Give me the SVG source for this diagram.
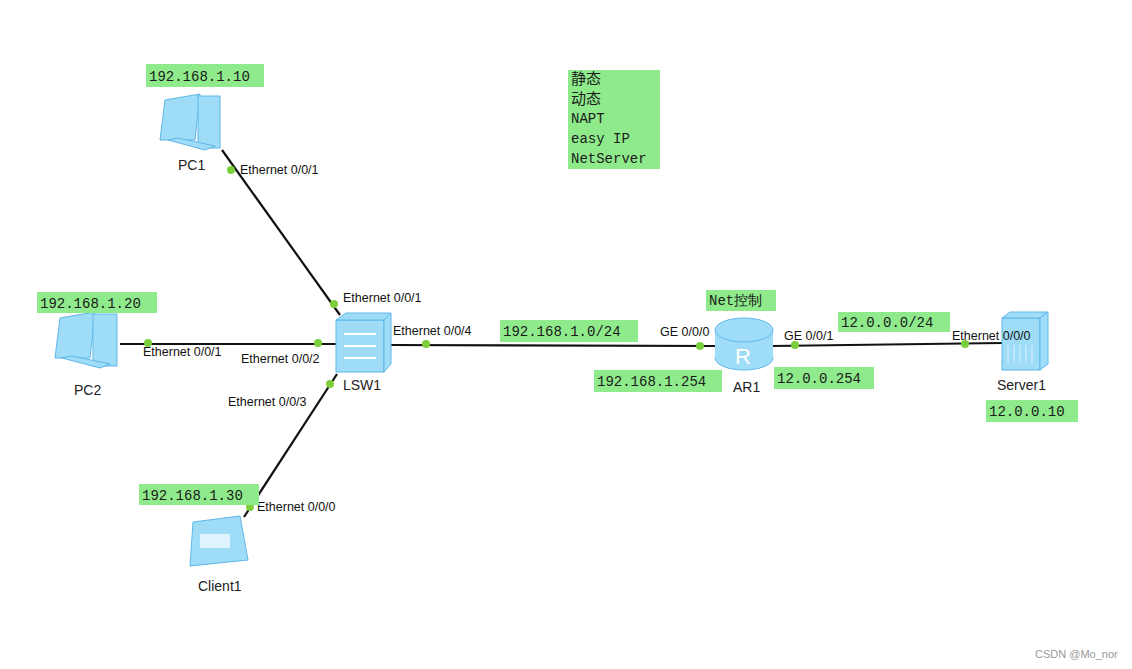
<svg xmlns="http://www.w3.org/2000/svg" width="1132" height="669" viewBox="0 0 1132 669">
<style>
.g{fill:#8fea8c}
.m{font-family:"Liberation Mono","DejaVu Sans Mono",monospace;font-size:14px;fill:#1a1a1a}
.p{font-family:"Liberation Sans",Arial,sans-serif;font-size:12.5px;fill:#111}
.n{font-family:"Liberation Sans",Arial,sans-serif;font-size:14px;fill:#222}
.l{stroke:#111;stroke-width:2.2;fill:none}
.d{fill:#7ccf3c}
.dev{fill:#9fdcf8;stroke:#5fb7e8;stroke-width:1}
</style>
<rect width="1132" height="669" fill="#fff"/>
<g id="connectors">
<line class="l" x1="222" y1="150" x2="340" y2="315"/>
<line class="l" x1="120" y1="344" x2="336" y2="344"/>
<line class="l" x1="390" y1="345" x2="716" y2="346"/>
<line class="l" x1="772" y1="346" x2="1002" y2="343"/>
<line class="l" x1="337" y1="374" x2="244" y2="517"/>
<circle class="d" cx="231" cy="170" r="4"/><circle class="d" cx="334" cy="304" r="4"/>
<circle class="d" cx="148" cy="343" r="4"/><circle class="d" cx="318" cy="343" r="4"/>
<circle class="d" cx="426" cy="344" r="4"/><circle class="d" cx="700" cy="346" r="4"/>
<circle class="d" cx="795" cy="345" r="4"/><circle class="d" cx="965" cy="344" r="4"/>
<circle class="d" cx="330" cy="384" r="4"/><circle class="d" cx="250" cy="507" r="4"/>
</g>
<g id="PC1">
<path class="dev" d="M165 100 L200 94 L195 140 L160 140 Z"/><rect class="dev" x="198" y="96" width="22" height="52"/><path class="dev" d="M168 140 L205 150 L215 146 L178 138Z"/>
<text class="n" x="178" y="170">PC1</text></g>
<g id="PC2">
<path class="dev" d="M60 318 L95 312 L90 358 L55 358 Z"/><rect class="dev" x="93" y="314" width="24" height="52"/><path class="dev" d="M62 358 L100 368 L110 364 L72 356Z"/>
<text class="n" x="74" y="395">PC2</text></g>
<g id="LSW1">
<rect class="dev" x="336" y="320" width="48" height="52"/><path class="dev" d="M336 320 L346 313 L391 313 L384 320Z"/><path class="dev" d="M384 320 L391 313 L391 364 L384 372Z"/>
<path d="M344 334h32M344 346h32M344 358h32" stroke="#fff" stroke-width="2"/>
<text class="n" x="343" y="390">LSW1</text></g>
<g id="AR1">
<ellipse class="dev" cx="744" cy="358" rx="29" ry="12"/><rect fill="#9fdcf8" x="715" y="330" width="58" height="28"/><ellipse class="dev" cx="744" cy="330" rx="29" ry="12"/>
<text x="735" y="364" font-family="Liberation Sans,sans-serif" font-size="22" fill="#fff">R</text>
<text class="n" x="733" y="392">AR1</text></g>
<g id="Server1">
<rect class="dev" x="1002" y="318" width="38" height="52"/><path class="dev" d="M1002 318 L1010 312 L1048 312 L1040 318Z"/><path class="dev" d="M1040 318 L1048 312 L1048 364 L1040 370Z"/>
<path d="M1008 345v18M1014 345v18M1020 345v18M1026 345v18M1032 345v18" stroke="#d8f0ff" stroke-width="1"/>
<text class="n" x="997" y="390">Server1</text></g>
<g id="Client1">
<path class="dev" d="M193 522 L240 516 L248 560 L190 566 Z"/><rect x="200" y="534" width="30" height="14" fill="#dff3ff"/>
<text class="n" x="198" y="591">Client1</text></g>
<g id="ports">
<text class="p" x="240" y="174">Ethernet 0/0/1</text>
<text class="p" x="343" y="302">Ethernet 0/0/1</text>
<text class="p" x="143" y="356">Ethernet 0/0/1</text>
<text class="p" x="241" y="363">Ethernet 0/0/2</text>
<text class="p" x="393" y="335">Ethernet 0/0/4</text>
<text class="p" x="660" y="336">GE 0/0/0</text>
<text class="p" x="784" y="340">GE 0/0/1</text>
<text class="p" x="952" y="340">Ethernet 0/0/0</text>
<text class="p" x="228" y="406">Ethernet 0/0/3</text>
<text class="p" x="257" y="511">Ethernet 0/0/0</text>
</g>
<g id="labels">
<rect class="g" x="146" y="64" width="118" height="23"/><text class="m" x="149" y="81">192.168.1.10</text>
<rect class="g" x="37" y="292" width="120" height="21"/><text class="m" x="40" y="308">192.168.1.20</text>
<rect class="g" x="139" y="484" width="120" height="21"/><text class="m" x="142" y="500">192.168.1.30</text>
<rect class="g" x="500" y="320" width="138" height="22"/><text class="m" x="503" y="336">192.168.1.0/24</text>
<rect class="g" x="594" y="370" width="128" height="22"/><text class="m" x="597" y="386">192.168.1.254</text>
<rect class="g" x="706" y="290" width="70" height="21"/><text class="m" x="709" y="305">Net控制</text>
<rect class="g" x="838" y="312" width="112" height="20"/><text class="m" x="841" y="327">12.0.0.0/24</text>
<rect class="g" x="774" y="367" width="100" height="22"/><text class="m" x="777" y="383">12.0.0.254</text>
<rect class="g" x="986" y="400" width="92" height="22"/><text class="m" x="989" y="416">12.0.0.10</text>
<rect class="g" x="568" y="70" width="92" height="99"/>
<text x="571" y="84" font-family="Noto Sans CJK SC,sans-serif" font-size="15" fill="#1a1a1a">静态</text>
<text x="571" y="104" font-family="Noto Sans CJK SC,sans-serif" font-size="15" fill="#1a1a1a">动态</text>
<text class="m" x="571" y="123">NAPT</text>
<text class="m" x="571" y="143">easy IP</text>
<text class="m" x="571" y="163">NetServer</text>
</g>
<text x="1035" y="658" font-family="Liberation Sans,sans-serif" font-size="11" fill="#999">CSDN @Mo_nor</text>
</svg>
